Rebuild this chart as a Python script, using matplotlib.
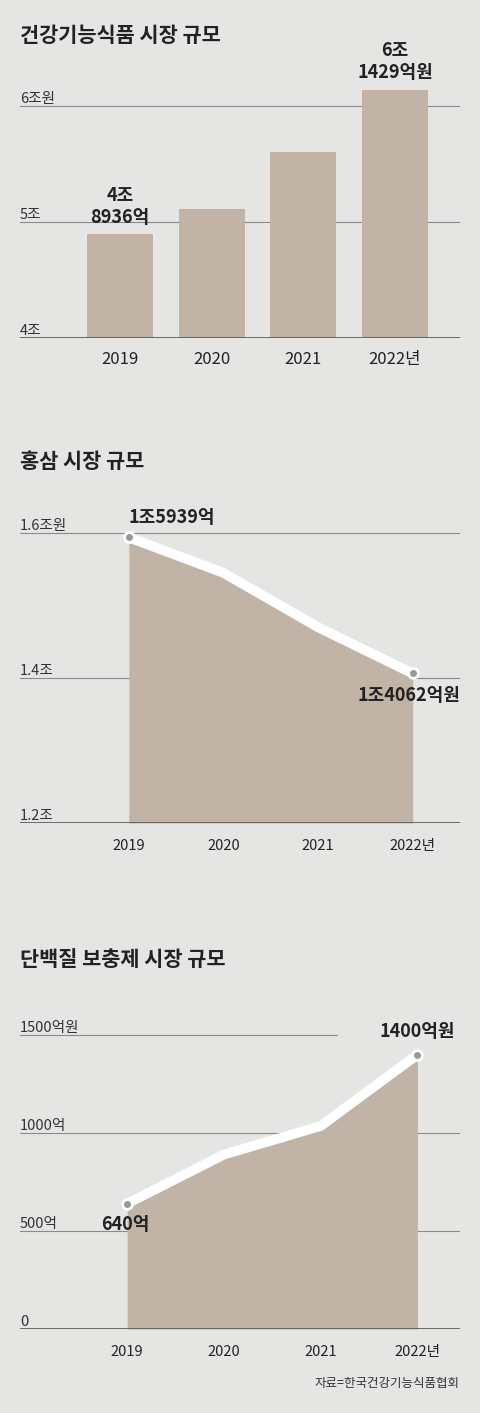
import matplotlib.pyplot as plt

plt.rcParams['font.family'] = ['Noto Sans CJK KR', 'DejaVu Sans']

BG = "#e5e5e3"
FILL = "#c1b4a7"
GRID = "#8a8a8a"
TXT = "#222222"

years = ["2019", "2020", "2021", "2022년"]
health = [4.8936, 5.11, 5.60, 6.1429]
ginseng = [1.5939, 1.545, 1.47, 1.4062]
protein = [640, 890, 1036, 1400]

W, H = 480, 1413
fig = plt.figure(figsize=(W / 100, H / 100), dpi=100, facecolor=BG)


def px_axes(x0, y0, x1, y1):
    # pixel box (top-left origin) -> figure axes
    ax = fig.add_axes([x0 / W, 1 - y1 / H, (x1 - x0) / W, (y1 - y0) / H])
    ax.set_facecolor(BG)
    for s in ax.spines.values():
        s.set_visible(False)
    ax.tick_params(left=False, bottom=False, labelleft=False)
    return ax


def title(y, s):
    fig.text(20 / W, 1 - y / H, s, fontsize=15, fontweight="bold", color=TXT, va="center")


def ylabels(ax, vals, labels, xr):
    for v, l in zip(vals, labels):
        ax.axhline(v, xmin=0, xmax=xr, color=GRID, lw=0.8, zorder=0)
        ax.text(ax.get_xlim()[0], v, l, fontsize=10.5, color="#333333", va="bottom",
                transform=ax.transData)


# panel 1
title(35, "건강기능식품 시장 규모")
ax = px_axes(20, 90, 460, 338)
ax.set_xlim(-1.09, 3.71)
ax.set_ylim(4, 6.138)
ylabels(ax, [4, 5, 6], ["4조", "5조", "6조원"], 1)
ax.bar(range(4), [v - 4 for v in health], bottom=4, width=0.72, color=FILL, zorder=2)
ax.axhline(4, color="#555555", lw=1.2, zorder=3)
ax.set_xticks(range(4), years, fontsize=12, color=TXT)
ax.tick_params(axis="x", pad=6)
ax.text(0, health[0] + 0.06, "4조\n8936억", ha="center", va="bottom", fontsize=13,
        fontweight="bold", color=TXT, linespacing=1.2)
ax.text(3, health[3] + 0.06, "6조\n1429억원", ha="center", va="bottom", fontsize=13,
        fontweight="bold", color=TXT, linespacing=1.2, clip_on=False)

# panel 2
title(462, "홍삼 시장 규모")
ax = px_axes(20, 500, 460, 823)
ax.set_xlim(-1.15, 3.50)
ax.set_ylim(1.2, 1.6455)
ylabels(ax, [1.2, 1.4, 1.6], ["1.2조", "1.4조", "1.6조원"], 1)
ax.fill_between(range(4), ginseng, 1.2, color=FILL, lw=0, zorder=2)
ax.plot(range(4), ginseng, color="white", lw=7, zorder=3, solid_capstyle="round")
ax.scatter([0, 3], [ginseng[0], ginseng[3]], s=50, color="#999999", edgecolor="white",
           linewidth=2, zorder=4)
ax.axhline(1.2, color="#555555", lw=1.2, zorder=5)
ax.set_xticks(range(4), years, fontsize=10.5, color=TXT)
ax.tick_params(axis="x", pad=8)
ax.text(0, ginseng[0] + 0.015, "1조5939억", ha="left", va="bottom", fontsize=13,
        fontweight="bold", color=TXT, transform=ax.transData)
ax.text(3.5, ginseng[3] - 0.03, "1조4062억원", ha="right", va="center", fontsize=13,
        fontweight="bold", color=TXT)

# panel 3
title(960, "단백질 보충제 시장 규모")
ax = px_axes(20, 1010, 460, 1329)
ax.set_xlim(-1.107, 3.44)
ax.set_ylim(0, 1628)
ylabels(ax, [0, 500, 1000, 1500], ["0", "500억", "1000억", "1500억원"], 1)
ax.lines[-1].set_xdata([0, 0.72])
ax.fill_between(range(4), protein, 0, color=FILL, lw=0, zorder=2)
ax.plot(range(4), protein, color="white", lw=7, zorder=3, solid_capstyle="round")
ax.scatter([0, 3], [protein[0], protein[3]], s=50, color="#999999", edgecolor="white",
           linewidth=2, zorder=4)
ax.axhline(0, color="#555555", lw=1.2, zorder=5)
ax.set_xticks(range(4), years, fontsize=10.5, color=TXT)
ax.tick_params(axis="x", pad=8)
ax.text(-0.27, protein[0] - 60, "640억", ha="left", va="top", fontsize=13,
        fontweight="bold", color=TXT, zorder=6)
ax.text(3.0, protein[3] + 70, "1400억원", ha="center", va="bottom", fontsize=13,
        fontweight="bold", color=TXT)

fig.text(460 / W, 1 - 1383 / H, "자료=한국건강기능식품협회", ha="right", va="center",
         fontsize=9, color="#333333")

fig.savefig("out.png", dpi=100, facecolor=BG)
